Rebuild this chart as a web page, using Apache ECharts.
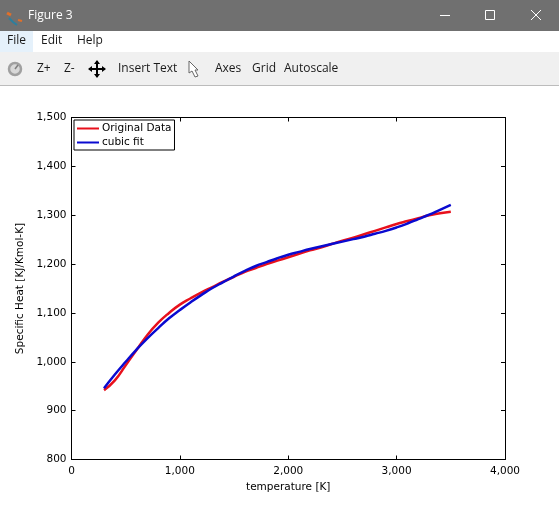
<!DOCTYPE html>
<html>
<head>
    <meta charset="utf-8">
    <title>Figure 3</title>
    <script src="https://cdn.jsdelivr.net/npm/echarts@6/dist/echarts.min.js"></script>
    <style>
        html, body { margin: 0; padding: 0; background: #fff; }
    </style>
</head>
<body>
<div id="main" style="width: 559px;height:505px;"></div>
<script type="text/javascript">

    // data
    let temperature = [300, 400, 500, 600, 700, 800, 900, 1000, 1100, 1200, 1300, 1400, 1500, 1600, 1700, 1800, 1900,
        2000, 2100, 2200, 2300, 2400, 2500, 2600, 2700, 2800, 2900, 3000, 3100, 3200, 3300, 3400, 3500];
    let originalData = [942, 962, 993, 1024, 1055, 1080, 1100, 1117, 1130, 1142, 1153, 1164, 1174, 1184, 1192, 1200, 1207,
        1214, 1221, 1228, 1234, 1241, 1248, 1254, 1261, 1268, 1275, 1282, 1288, 1294, 1300, 1304, 1307];
    let cubicFit = [946, 974, 1000, 1025, 1048, 1069, 1089, 1106, 1122, 1137, 1151, 1163, 1175, 1186, 1196, 1204, 1212,
        1219, 1225, 1231, 1236, 1241, 1246, 1251, 1256, 1262, 1268, 1275, 1283, 1292, 1301, 1311, 1321];

    let seriesNames = ['Original Data', 'cubic fit'];
    let xLabel = 'temperature [K]';
    let yLabel = 'Specific Heat [KJ/Kmol-K]';
    let menuItems = [['File', 7], ['Edit', 41], ['Help', 77]];
    let toolItems = [['Z+', 37], ['Z-', 64], ['Insert Text', 118], ['Axes', 215], ['Grid', 252], ['Autoscale', 284]];

    let plotFont = '"DejaVu Sans"';
    let uiFont = '"Open Sans"';

    function zip(xs, ys) {
        return xs.map(function (x, i) { return [x, ys[i]]; });
    }

    function uiText(str, x, y, size, color) {
        return { type: 'text', x: x, y: y, style: { text: str, fontFamily: uiFont, fontSize: size, fill: color, textVerticalAlign: 'middle' } };
    }

    function rect(x, y, w, h, color) {
        return { type: 'rect', shape: { x: x, y: y, width: w, height: h }, style: { fill: color } };
    }

    function stroke(points, color, width) {
        return { type: 'polyline', shape: { points: points }, style: { stroke: color, lineWidth: width, fill: null } };
    }

    // window frame around the plot
    let chrome = [
        rect(0, 0, 559, 31, '#707070'),
        rect(0, 31, 33, 21, '#e5f1fb'),
        rect(0, 52, 559, 33, '#f0f0f0'),
        rect(0, 85, 559, 1, '#bcbcbc'),
        // logo
        stroke([[9, 18], [13, 22], [17, 25]], '#2b7f9e', 2),
        stroke([[7, 13], [11, 15]], '#e0702a', 3),
        stroke([[18, 20], [22, 21]], '#e0702a', 2),
        // window buttons
        rect(440, 15, 10, 1, '#fff'),
        { type: 'rect', shape: { x: 485.5, y: 10.5, width: 9, height: 9 }, style: { stroke: '#fff', fill: null } },
        stroke([[531, 10], [541, 20]], '#fff', 1),
        stroke([[541, 10], [531, 20]], '#fff', 1),
        // rotate tool
        { type: 'circle', shape: { cx: 15, cy: 69, r: 6 }, style: { stroke: '#a0a0a0', lineWidth: 2.5, fill: '#d8d8d8' } },
        stroke([[15, 69], [18, 65]], '#808080', 1.5),
        // pan tool
        stroke([[89, 69], [105, 69]], '#000', 2),
        stroke([[97, 61], [97, 77]], '#000', 2),
        { type: 'polygon', shape: { points: [[97, 60], [94, 64], [100, 64]] }, style: { fill: '#000' } },
        { type: 'polygon', shape: { points: [[97, 78], [94, 74], [100, 74]] }, style: { fill: '#000' } },
        { type: 'polygon', shape: { points: [[88, 69], [92, 66], [92, 72]] }, style: { fill: '#000' } },
        { type: 'polygon', shape: { points: [[106, 69], [102, 66], [102, 72]] }, style: { fill: '#000' } },
        // pointer tool
        { type: 'polygon', shape: { points: [[189, 61], [189, 73], [192, 71], [195, 77], [198, 76], [195, 70], [198, 70]] }, style: { fill: '#fff', stroke: '#666' } },
        uiText('Figure 3', 28, 16, 12, '#fff')
    ];
    menuItems.forEach(function (m) { chrome.push(uiText(m[0], m[1], 41, 12, '#1a1a1a')); });
    toolItems.forEach(function (t) { chrome.push(uiText(t[0], t[1], 69, 12, '#1a1a1a')); });

    function tickAxis(extra) {
        return Object.assign({
            type: 'value',
            axisLine: { show: true, onZero: false, lineStyle: { color: '#000', width: 1 } },
            axisTick: { show: true, inside: true, length: 4, lineStyle: { color: '#000', width: 1 } },
            splitLine: { show: false }
        }, extra);
    }

    let labelStyle = { show: true, color: '#000', fontFamily: plotFont, fontSize: 10.5, hideOverlap: false };
    let nameStyle = { color: '#000', fontFamily: plotFont, fontSize: 10.5 };

    // option
    let option = {
        animation: false,
        backgroundColor: '#fff',
        grid: { left: 71.5, top: 117.5, width: 433.5, height: 342 },
        xAxis: [
            tickAxis({
                min: 0, max: 4000, interval: 1000, position: 'bottom',
                name: xLabel, nameLocation: 'middle', nameGap: 19, nameTextStyle: nameStyle,
                axisLabel: Object.assign({ margin: 6 }, labelStyle)
            }),
            tickAxis({ min: 0, max: 4000, interval: 1000, position: 'top', axisLabel: { show: false } })
        ],
        yAxis: [
            tickAxis({
                min: 800, max: 1500, interval: 100, position: 'left',
                name: yLabel, nameLocation: 'middle', nameGap: 37, nameTextStyle: nameStyle,
                axisLabel: Object.assign({ margin: 5 }, labelStyle)
            }),
            tickAxis({ min: 800, max: 1500, interval: 100, position: 'right', axisLabel: { show: false } })
        ],
        legend: {
            left: 74, top: 120, orient: 'vertical', padding: [3, 3, 2, 3], itemGap: 3,
            itemWidth: 22, itemHeight: 10,
            borderColor: '#000', borderWidth: 1, backgroundColor: '#fff',
            textStyle: { color: '#000', fontFamily: plotFont, fontSize: 10.5, padding: [0, 0, 0, -2] },
            data: seriesNames.map(function (n) { return { name: n, icon: 'path://M0 4H22V6H0Z' }; })
        },
        series: [
            {
                name: seriesNames[0], type: 'line', smooth: true, symbol: 'none',
                lineStyle: { color: '#e8101c', width: 2.5 }, itemStyle: { color: '#e8101c' },
                data: zip(temperature, originalData)
            },
            {
                name: seriesNames[1], type: 'line', smooth: true, symbol: 'none',
                lineStyle: { color: '#0a0ad0', width: 2.5 }, itemStyle: { color: '#0a0ad0' },
                data: zip(temperature, cubicFit)
            }
        ],
        graphic: { elements: chrome }
    };

    let myChart = echarts.init(document.getElementById('main'));
    myChart.setOption(option);
</script>
</body>
</html>
